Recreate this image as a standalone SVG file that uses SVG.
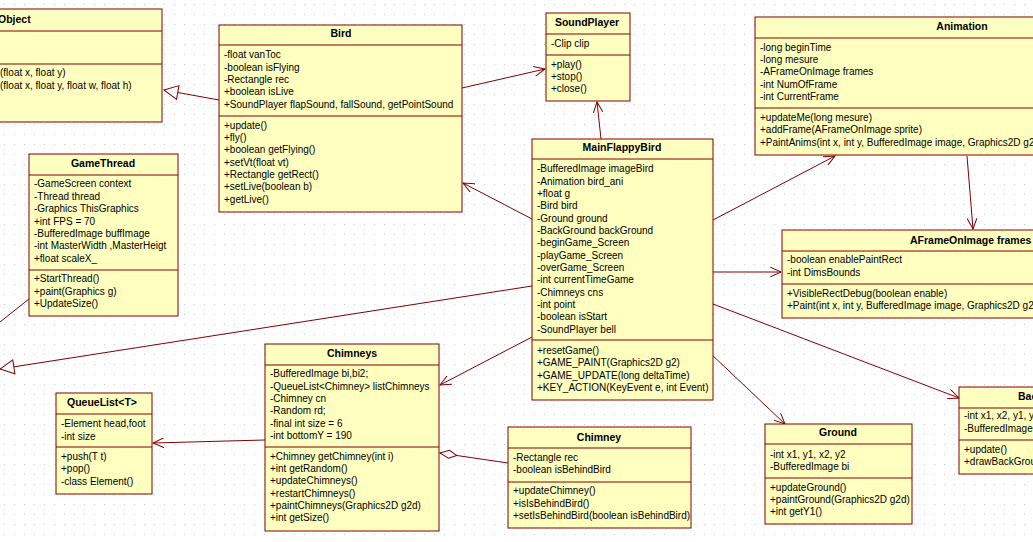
<svg xmlns="http://www.w3.org/2000/svg" width="1033" height="542" viewBox="0 0 1033 542">
<style>
.b{fill:#FFFFC0;stroke:#800000;stroke-width:1}
.s{stroke:#800000;stroke-width:1}
text{font-family:"Liberation Sans",Arial,sans-serif;font-size:10px;fill:#000}
.h{font-weight:bold;font-size:10.5px;text-anchor:middle}
.c{fill:none;stroke:#800000;stroke-width:1}
</style>
<defs>
<pattern id="g" width="10" height="10" patternUnits="userSpaceOnUse"><rect x="4" y="4" width="1" height="1" fill="#c8c8c8"/></pattern>
<marker id="oa" markerWidth="12" markerHeight="10" refX="11" refY="5" orient="auto" markerUnits="userSpaceOnUse"><path d="M0,0 L11,5 L0,10" fill="none" stroke="#800000"/></marker>
<marker id="tri" markerWidth="16" markerHeight="16" refX="15" refY="8" orient="auto" markerUnits="userSpaceOnUse"><path d="M1,1 L15,8 L1,15 Z" fill="#fff" stroke="#800000"/></marker>
<marker id="dia" markerWidth="20" markerHeight="10" refX="18" refY="5" orient="auto" markerUnits="userSpaceOnUse"><path d="M1,5 L9,1 L18,5 L9,9 Z" fill="#fff" stroke="#800000"/></marker>
</defs>
<rect width="1033" height="542" fill="#fff"/>
<rect width="1033" height="542" fill="url(#g)"/>
<g id="connectors">
<line class="c" x1="219" y1="100" x2="164" y2="90" marker-end="url(#tri)"/>
<line class="c" x1="462" y1="88" x2="545" y2="69" marker-end="url(#oa)"/>
<line class="c" x1="601" y1="139" x2="597" y2="102" marker-end="url(#oa)"/>
<line class="c" x1="532" y1="219" x2="463" y2="183" marker-end="url(#oa)"/>
<line class="c" x1="713" y1="220" x2="835" y2="156" marker-end="url(#oa)"/>
<line class="c" x1="967" y1="156" x2="973" y2="229" marker-end="url(#oa)"/>
<line class="c" x1="713" y1="272" x2="781" y2="272" marker-end="url(#oa)"/>
<line class="c" x1="713" y1="304" x2="959" y2="398" marker-end="url(#oa)"/>
<line class="c" x1="710" y1="353" x2="785" y2="424" marker-end="url(#oa)"/>
<line class="c" x1="532" y1="337" x2="440" y2="385" marker-end="url(#oa)"/>
<line class="c" x1="265" y1="440" x2="153" y2="443" marker-end="url(#oa)"/>
<line class="c" x1="508" y1="463" x2="440" y2="453" marker-end="url(#dia)"/>
<line class="c" x1="532" y1="286" x2="0" y2="369" marker-end="url(#tri)"/>
<line class="c" x1="29" y1="299" x2="0" y2="322"/>
</g>
<g id="Object">
<rect class="b" x="-40" y="9" width="202" height="113"/>
<line class="s" x1="-40" y1="31" x2="162" y2="31"/><line class="s" x1="-40" y1="64" x2="162" y2="64"/>
<text x="-2" y="23" style="font-weight:bold;font-size:10.5px">Object</text>
<text x="0" y="76">(float x, float y)</text>
<text x="0" y="89">(float x, float y, float w, float h)</text>
</g>
<g id="Bird">
<rect class="b" x="219" y="25" width="243" height="187"/>
<line class="s" x1="219" y1="45" x2="462" y2="45"/><line class="s" x1="219" y1="116" x2="462" y2="116"/>
<text class="h" x="341" y="37">Bird</text>
<text x="224" y="58">-float vanToc</text><text x="224" y="71">-boolean isFlying</text><text x="224" y="83">-Rectangle rec</text><text x="224" y="95">+boolean isLive</text><text x="224" y="108">+SoundPlayer flapSound, fallSound, getPointSound</text>
<text x="224" y="129">+update()</text><text x="224" y="141">+fly()</text><text x="224" y="153">+boolean getFlying()</text><text x="224" y="166">+setVt(float vt)</text><text x="224" y="178">+Rectangle getRect()</text><text x="224" y="190">+setLive(boolean b)</text><text x="224" y="203">+getLive()</text>
</g>
<g id="SoundPlayer">
<rect class="b" x="546" y="13" width="84" height="88"/>
<line class="s" x1="546" y1="34" x2="630" y2="34"/><line class="s" x1="546" y1="55" x2="630" y2="55"/>
<text class="h" x="587" y="26">SoundPlayer</text>
<text x="551" y="47">-Clip clip</text>
<text x="551" y="68">+play()</text><text x="551" y="80">+stop()</text><text x="551" y="92">+close()</text>
</g>
<g id="Animation">
<rect class="b" x="755" y="17" width="290" height="138"/>
<line class="s" x1="755" y1="38" x2="1045" y2="38"/><line class="s" x1="755" y1="108" x2="1045" y2="108"/>
<text class="h" x="962" y="30">Animation</text>
<text x="760" y="51">-long beginTime</text><text x="760" y="63">-long mesure</text><text x="760" y="75">-AFrameOnImage frames</text><text x="760" y="88">-int NumOfFrame</text><text x="760" y="100">-int CurrentFrame</text>
<text x="760" y="121">+updateMe(long mesure)</text><text x="760" y="133">+addFrame(AFrameOnImage sprite)</text><text x="760" y="146">+PaintAnims(int x, int y, BufferedImage image, Graphics2D g2, int</text>
</g>
<g id="AFrameOnImage">
<rect class="b" x="782" y="230" width="263" height="88"/>
<line class="s" x1="782" y1="251" x2="1045" y2="251"/><line class="s" x1="782" y1="284" x2="1045" y2="284"/>
<text x="910" y="244" style="font-weight:bold;font-size:10.5px">AFrameOnImage frames</text>
<text x="787" y="263">-boolean enablePaintRect</text><text x="787" y="276">-int DimsBounds</text>
<text x="787" y="297">+VisibleRectDebug(boolean enable)</text><text x="787" y="309">+Paint(int x, int y, BufferedImage image, Graphics2D g2, int</text>
</g>
<g id="MainFlappyBird">
<rect class="b" x="532" y="139" width="181" height="261"/>
<line class="s" x1="532" y1="159" x2="713" y2="159"/><line class="s" x1="532" y1="340" x2="713" y2="340"/>
<text class="h" x="622" y="151">MainFlappyBird</text>
<text x="537" y="172">-BufferedImage imageBird</text><text x="537" y="185">-Animation bird_ani</text><text x="537" y="197">+float g</text><text x="537" y="209">-Bird bird</text><text x="537" y="222">-Ground ground</text><text x="537" y="234">-BackGround backGround</text><text x="537" y="246">-beginGame_Screen</text><text x="537" y="259">-playGame_Screen</text><text x="537" y="271">-overGame_Screen</text><text x="537" y="283">-int currentTimeGame</text><text x="537" y="296">-Chimneys cns</text><text x="537" y="308">-int point</text><text x="537" y="320">-boolean isStart</text><text x="537" y="333">-SoundPlayer bell</text>
<text x="537" y="354">+resetGame()</text><text x="537" y="366">+GAME_PAINT(Graphics2D g2)</text><text x="537" y="379">+GAME_UPDATE(long deltaTime)</text><text x="537" y="391">+KEY_ACTION(KeyEvent e, int Event)</text>
</g>
<g id="GameThread">
<rect class="b" x="29" y="154" width="149" height="162"/>
<line class="s" x1="29" y1="175" x2="178" y2="175"/><line class="s" x1="29" y1="270" x2="178" y2="270"/>
<text class="h" x="103" y="167">GameThread</text>
<text x="34" y="187">-GameScreen context</text><text x="34" y="200">-Thread thread</text><text x="34" y="212">-Graphics ThisGraphics</text><text x="34" y="225">+int FPS = 70</text><text x="34" y="237">-BufferedImage buffImage</text><text x="34" y="249">-int MasterWidth ,MasterHeigt</text><text x="34" y="262">+float scaleX_</text>
<text x="34" y="282">+StartThread()</text><text x="34" y="295">+paint(Graphics g)</text><text x="34" y="307">+UpdateSize()</text>
</g>
<g id="Chimneys">
<rect class="b" x="265" y="344" width="174" height="187"/>
<line class="s" x1="265" y1="365" x2="439" y2="365"/><line class="s" x1="265" y1="447" x2="439" y2="447"/>
<text class="h" x="352" y="357">Chimneys</text>
<text x="270" y="377">-BufferedImage bi,bi2;</text><text x="270" y="390">-QueueList&lt;Chimney&gt; listChimneys</text><text x="270" y="402">-Chimney cn</text><text x="270" y="414">-Random rd;</text><text x="270" y="427">-final int size = 6</text><text x="270" y="439">-int bottomY = 190</text>
<text x="270" y="460">+Chimney getChimney(int i)</text><text x="270" y="472">+int getRandom()</text><text x="270" y="484">+updateChimneys()</text><text x="270" y="497">+restartChimneys()</text><text x="270" y="509">+paintChimneys(Graphics2D g2d)</text><text x="270" y="521">+int getSize()</text>
</g>
<g id="QueueList">
<rect class="b" x="56" y="393" width="96" height="101"/>
<line class="s" x1="56" y1="414" x2="152" y2="414"/><line class="s" x1="56" y1="447" x2="152" y2="447"/>
<text class="h" x="102" y="406">QueueList&lt;T&gt;</text>
<text x="61" y="427">-Element head,foot</text><text x="61" y="440">-int size</text>
<text x="61" y="460">+push(T t)</text><text x="61" y="472">+pop()</text><text x="61" y="485">-class Element()</text>
</g>
<g id="Chimney">
<rect class="b" x="508" y="427" width="183" height="101"/>
<line class="s" x1="508" y1="448" x2="691" y2="448"/><line class="s" x1="508" y1="482" x2="691" y2="482"/>
<text class="h" x="599" y="441">Chimney</text>
<text x="513" y="461">-Rectangle rec</text><text x="513" y="473">-boolean isBehindBird</text>
<text x="513" y="494">+updateChimney()</text><text x="513" y="507">+isIsBehindBird()</text><text x="513" y="519">+setIsBehindBird(boolean isBehindBird)</text>
</g>
<g id="Ground">
<rect class="b" x="765" y="424" width="147" height="100"/>
<line class="s" x1="765" y1="444" x2="912" y2="444"/><line class="s" x1="765" y1="478" x2="912" y2="478"/>
<text class="h" x="838" y="436">Ground</text>
<text x="770" y="458">-int x1, y1, x2, y2</text><text x="770" y="470">-BufferedImage bi</text>
<text x="770" y="491">+updateGround()</text><text x="770" y="503">+paintGround(Graphics2D g2d)</text><text x="770" y="515">+int getY1()</text>
</g>
<g id="BackGround">
<rect class="b" x="959" y="387" width="90" height="87"/>
<line class="s" x1="959" y1="408" x2="1049" y2="408"/><line class="s" x1="959" y1="440" x2="1049" y2="440"/>
<text x="1018" y="400" style="font-weight:bold;font-size:10.5px">BackGround</text>
<text x="964" y="419">-int x1, x2, y1, y2</text><text x="964" y="432">-BufferedImage bi</text>
<text x="964" y="453">+update()</text><text x="964" y="465">+drawBackGround(Graphics2D g2d)</text>
</g>
</svg>
